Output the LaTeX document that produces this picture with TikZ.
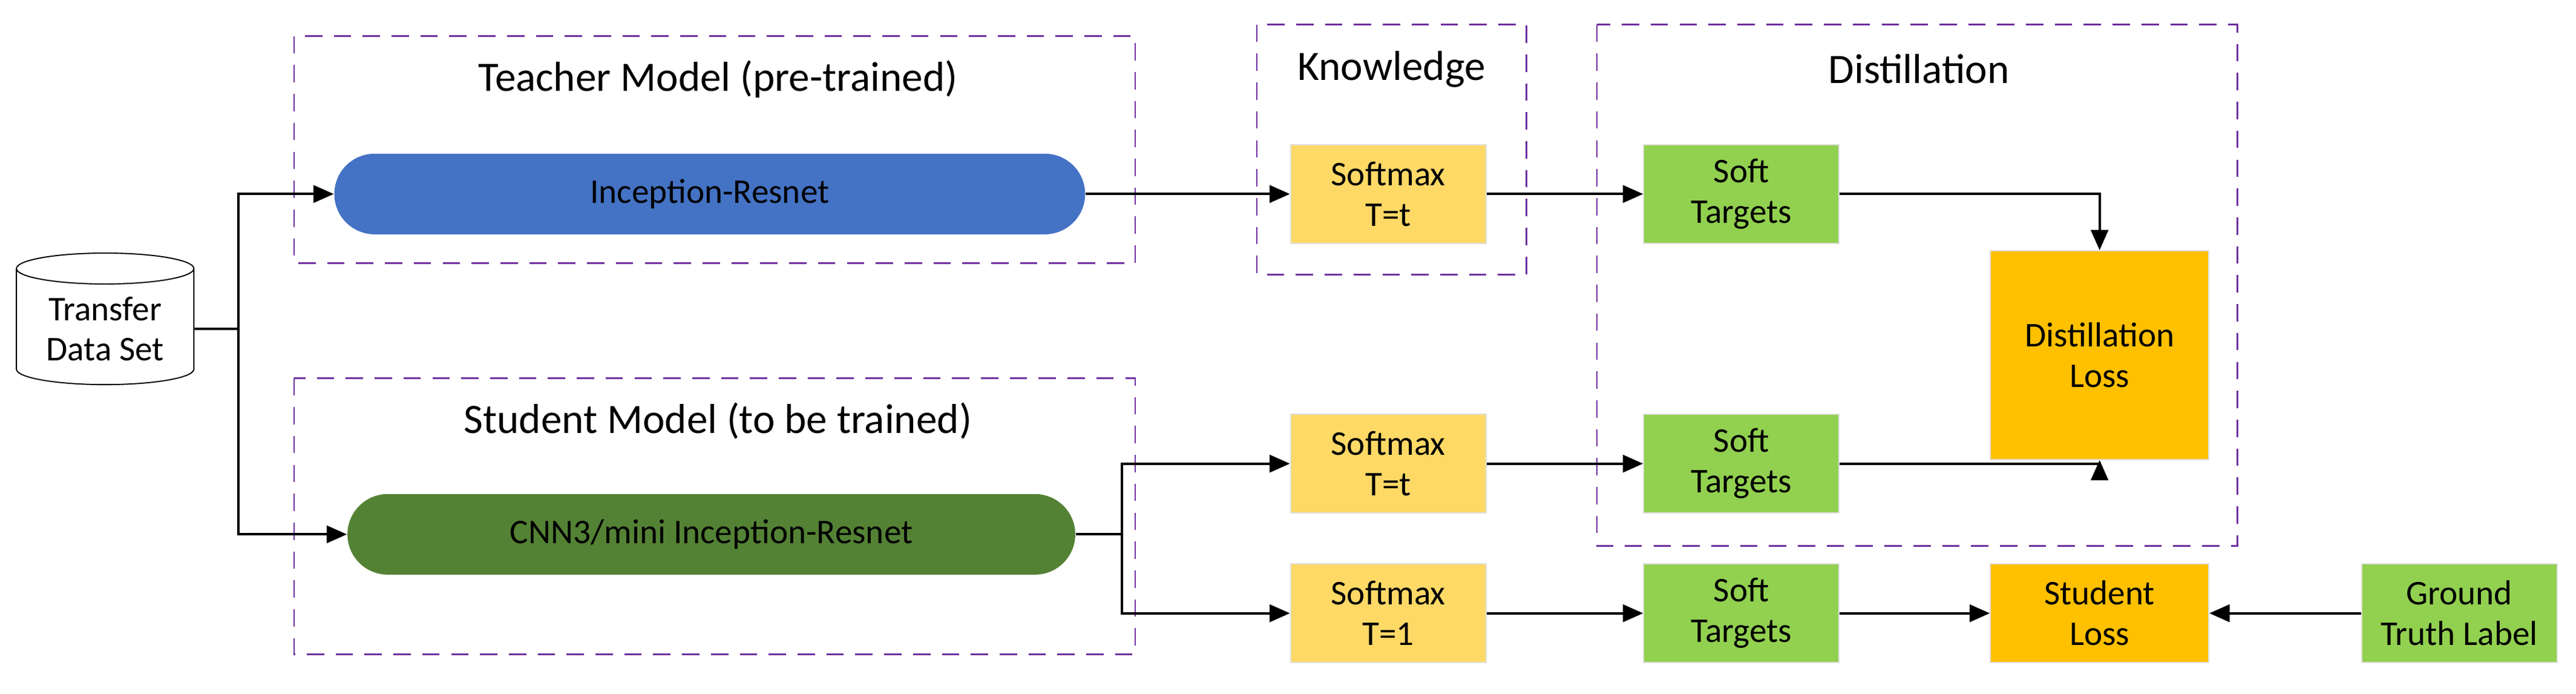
\documentclass[tikz,border=0pt]{standalone}
\usepackage{fontspec}
\setmainfont{Carlito}
\usetikzlibrary{shapes.geometric,arrows.meta}
\definecolor{tblue}{HTML}{4472C4}
\definecolor{sgreen}{HTML}{548235}
\definecolor{lgreen}{HTML}{92D050}
\definecolor{lyellow}{HTML}{FFD966}
\definecolor{orng}{HTML}{FFC000}
\definecolor{purp}{HTML}{7030A0}
\begin{document}
\begin{tikzpicture}[x=0.2mm,y=-0.2mm,font=\fontsize{12}{14}\selectfont,
  frame/.style={draw=purp,dashed,line width=0.6pt,dash pattern=on 6pt off 4pt},
  title/.style={font=\fontsize{14.5}{17}\selectfont},
  box/.style={fill=#1,draw=gray!25,minimum width=23.8mm,minimum height=12mm,align=center,inner sep=1pt},
  pill/.style={fill=#1,rounded corners=4.9mm,minimum height=9.8mm,text=black},
  arr/.style={-{Triangle[length=7pt,width=6pt]},line width=0.8pt},
  ln/.style={line width=0.8pt}]
\useasboundingbox (0,0) rectangle (1568,422);
% frames
\draw[frame] (179,22) rectangle (691,160);
\draw[frame] (765,15) rectangle (929,167);
\draw[frame] (972,15) rectangle (1362,332);
\draw[frame] (179,230) rectangle (691,398);
\node[title] (tt) at (437,48) {Teacher Model (pre-trained)};
\node[title] (kt) at (847,42) {Knowledge};
\node[title] (dt) at (1168,42) {Distillation};
\node[title] (st) at (437,256) {Student Model (to be trained)};
% nodes
\node[cylinder,shape border rotate=90,draw,aspect=0.25,minimum width=21.6mm,minimum height=16mm,align=center,inner sep=1pt] (data) at (64,200) {Transfer\\Data Set};
\node[pill=tblue,minimum width=91.4mm] (inc) at (432,118) {Inception-Resnet};
\node[pill=sgreen,minimum width=88.6mm] (cnn) at (433,325) {CNN3/mini Inception-Resnet};
\node[box=lyellow] (sm1) at (845,118) {Softmax\\T=t};
\node[box=lyellow] (sm2) at (845,282) {Softmax\\T=t};
\node[box=lyellow] (sm3) at (845,373) {Softmax\\T=1};
\node[box=lgreen] (s1) at (1060,118) {Soft\\Targets};
\node[box=lgreen] (s2) at (1060,282) {Soft\\Targets};
\node[box=lgreen] (s3) at (1060,373) {Soft\\Targets};
\node[box=orng,minimum width=26.6mm,minimum height=25.4mm] (dl) at (1278,216) {Distillation\\Loss};
\node[box=orng,minimum width=26.6mm] (sl) at (1278,373) {Student\\Loss};
\node[box=lgreen] (gt) at (1497,373) {Ground\\Truth Label};
% connectors
\coordinate (j1) at (145,200);
\draw[ln] (data.east) -- (j1);
\draw[arr] (j1) |- (inc.west);
\draw[arr] (j1) |- (cnn.west);
\draw[arr] (inc.east) -- (sm1.west);
\draw[arr] (sm1.east) -- (s1.west);
\draw[arr] (s1.east) -| (dl.north);
\draw[arr] (s2.east) -| (dl.south);
\coordinate (j2) at (683,325);
\draw[ln] (cnn.east) -- (j2);
\draw[arr] (j2) |- (sm2.west);
\draw[arr] (j2) |- (sm3.west);
\draw[arr] (sm2.east) -- (s2.west);
\draw[arr] (sm3.east) -- (s3.west);
\draw[arr] (s3.east) -- (sl.west);
\draw[arr] (gt.west) -- (sl.east);
\end{tikzpicture}
\end{document}
